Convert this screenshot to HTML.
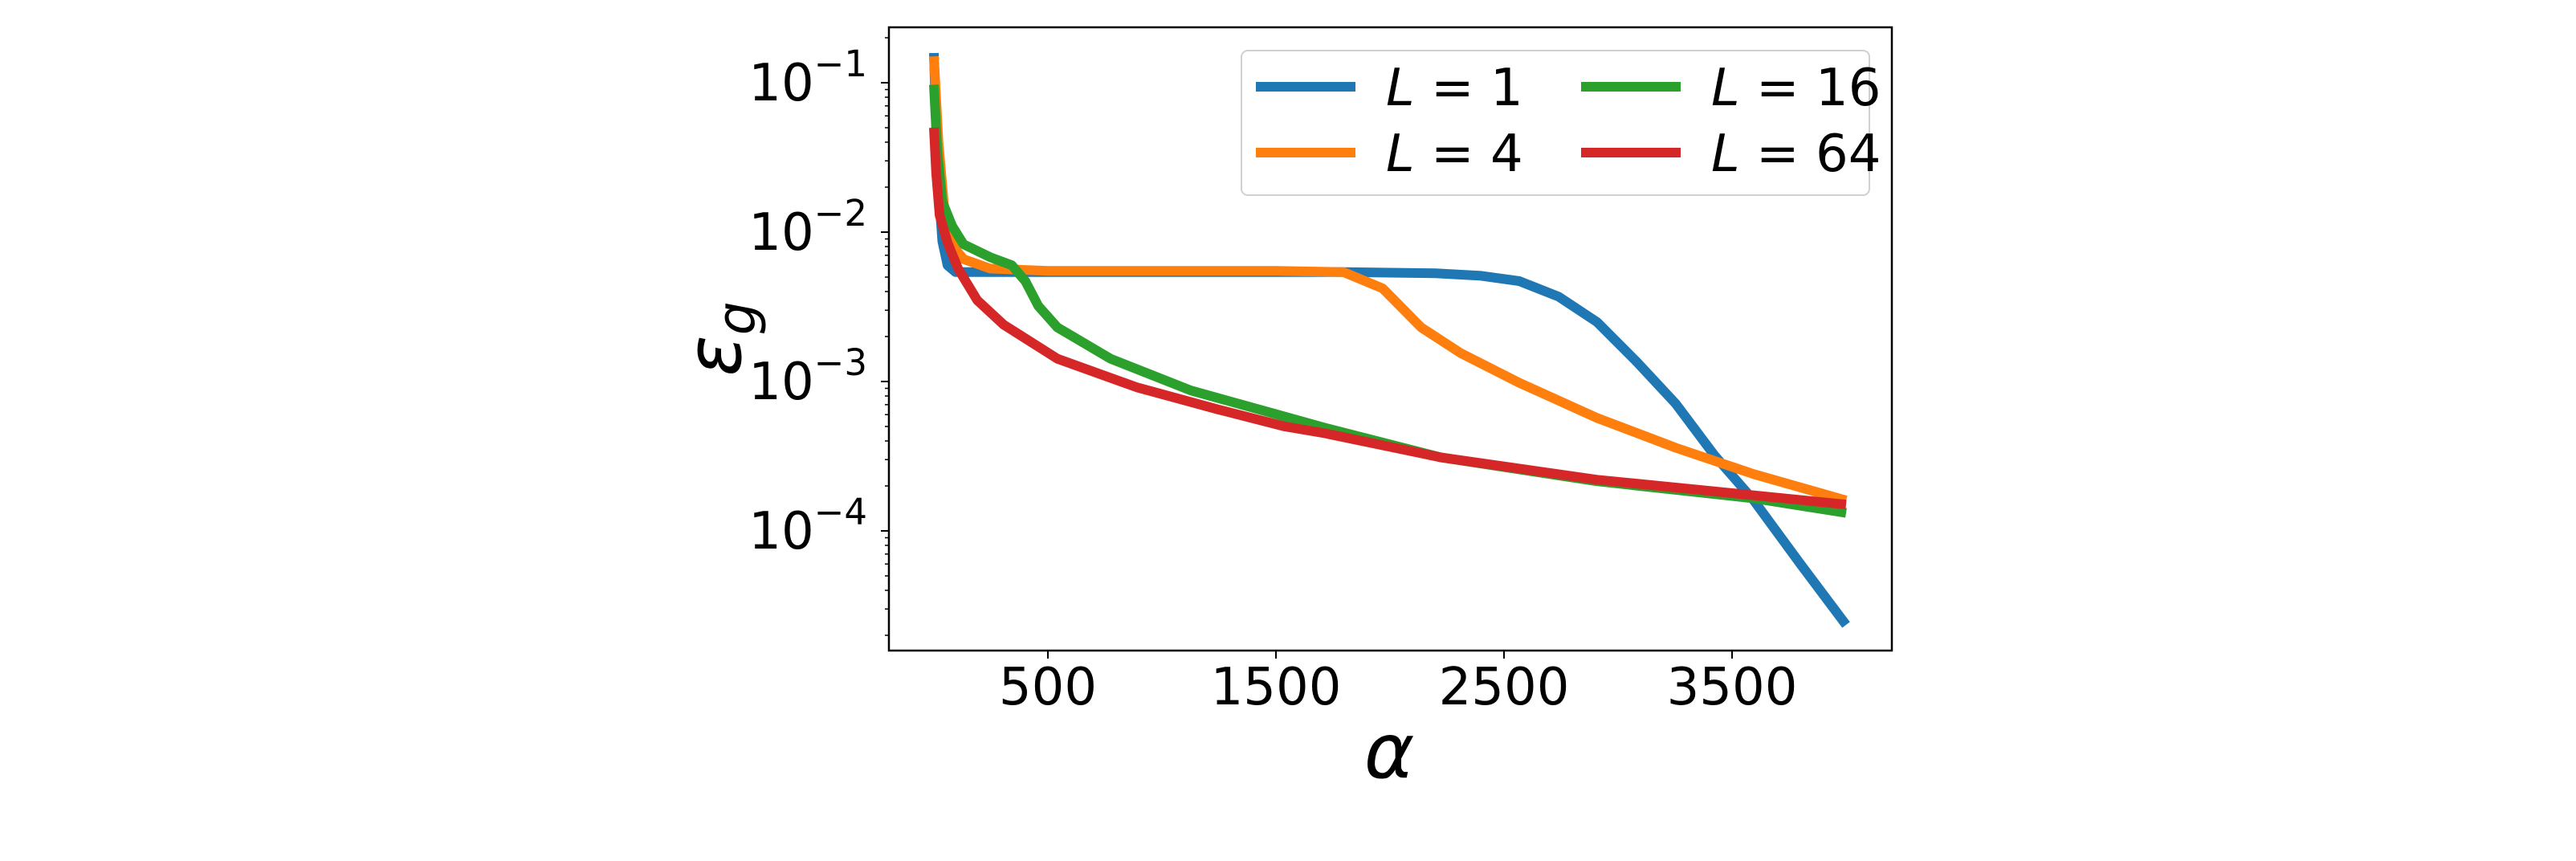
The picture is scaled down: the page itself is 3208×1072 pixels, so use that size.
<!DOCTYPE html>
<html><head><meta charset="utf-8"><style>
html,body{margin:0;padding:0;background:#fff;}
svg{display:block;font-family:"DejaVu Sans","Liberation Sans",sans-serif;}
</style></head><body>
<svg id="chart" width="3208" height="1072" xmlns="http://www.w3.org/2000/svg">
<rect width="3208" height="1072" fill="#fff"/>
<g id="plot"></g>
<g id="axes"></g>
</svg>
<script>
const xTicks = [500, 1500, 2500, 3500];
const xTickLabels = ["500", "1500", "2500", "3500"];
const yDecades = [-1, -2, -3, -4];
const seriesNames = ["L = 1", "L = 4", "L = 16", "L = 64"];
const seriesColors = ["#1f77b4", "#ff7f0e", "#2ca02c", "#d62728"];
const alphaL1 = [0, 10, 20, 37, 60, 95, 150, 300, 1000, 1800, 2200, 2400, 2567, 2739, 2908, 3081, 3253, 3423, 3595, 3800, 4000];
const valL1 = [0.158, 0.05, 0.02, 0.0087, 0.006, 0.0054, 0.0054, 0.0054, 0.0054, 0.0054, 0.0053, 0.0051, 0.0047, 0.0037, 0.0025, 0.00136, 0.00071, 0.00032, 0.00016, 0.00006, 0.0000235];
const alphaL4 = [0, 20, 50, 100, 130, 247, 500, 1000, 1500, 1796, 1968, 2137, 2310, 2567, 2908, 3253, 3595, 4000];
const valL4 = [0.15, 0.04, 0.012, 0.0075, 0.0066, 0.0057, 0.0055, 0.0055, 0.0055, 0.0054, 0.0042, 0.0023, 0.00155, 0.00098, 0.00057, 0.00036, 0.00024, 0.00016];
const alphaL16 = [0, 15, 37, 80, 130, 247, 342, 401, 458, 542, 775, 1127, 1715, 2225, 2908, 3595, 4000];
const valL16 = [0.097, 0.035, 0.016, 0.011, 0.0083, 0.0068, 0.006, 0.0047, 0.0032, 0.0023, 0.00142, 0.00087, 0.00049, 0.00031, 0.000215, 0.000165, 0.000132];
const alphaL64 = [0, 10, 25, 60, 106, 190, 306, 542, 894, 1246, 1539, 1715, 2225, 2908, 3595, 4000];
const valL64 = [0.05, 0.025, 0.013, 0.0085, 0.0057, 0.0035, 0.0024, 0.00142, 0.00091, 0.00065, 0.0005, 0.00045, 0.00031, 0.00022, 0.000173, 0.00015];

const AX = {left:1107, right:2356, top:34, bottom:810};
function xScale(a){ return 1163 + a*0.284; }
function yScale(v){ return 103 + (-1 - Math.log10(v))*186; }
const NS = "http://www.w3.org/2000/svg";
function mk(tag, attrs, parent){ const e=document.createElementNS(NS,tag); for(const k in attrs) e.setAttribute(k,attrs[k]); parent.appendChild(e); return e; }
const plot=document.getElementById('plot'), axes=document.getElementById('axes');

const clip = mk('clipPath',{id:'clip'},plot);
mk('rect',{x:AX.left,y:AX.top,width:AX.right-AX.left,height:AX.bottom-AX.top},clip);

const allA=[alphaL1,alphaL4,alphaL16,alphaL64], allV=[valL1,valL4,valL16,valL64];
const lineNames=['line-l1','line-l4','line-l16','line-l64'];
for(let s=0;s<4;s++){
  let d='';
  for(let i=0;i<allA[s].length;i++){ d+=(i?'L':'M')+xScale(allA[s][i]).toFixed(1)+','+yScale(allV[s][i]).toFixed(1); }
  const p=mk('path',{d:d,fill:'none',stroke:seriesColors[s],'stroke-width':12,'stroke-linejoin':'round','clip-path':'url(#clip)'},plot);
  
  
}

// frame
const fr=mk('rect',{x:AX.left,y:AX.top,width:AX.right-AX.left,height:AX.bottom-AX.top,fill:'none',stroke:'#000','stroke-width':2.5},axes);



// x ticks
for(let i=0;i<xTicks.length;i++){
  const x=xScale(xTicks[i]);
  const t=mk('line',{x1:x,x2:x,y1:AX.bottom,y2:AX.bottom+10,stroke:'#000','stroke-width':2},axes);
  
  
  const tx=mk('text',{x:x,y:877,'font-size':64,'text-anchor':'middle',fill:'#000'},axes);
  tx.textContent=xTickLabels[i];
  
  
}
// y ticks
for(let i=0;i<yDecades.length;i++){
  const y=yScale(Math.pow(10,yDecades[i]));
  const t=mk('line',{x1:AX.left-10,x2:AX.left,y1:y,y2:y,stroke:'#000','stroke-width':2},axes);
  
  
  const tx=mk('text',{x:1080,y:y+22,'font-size':64,'text-anchor':'end',fill:'#000'},axes);
  
  
  const a=mk('tspan',{},tx); a.textContent='10';
  const b=mk('tspan',{dy:-30,'font-size':45},tx); b.textContent='\u2212'+(-yDecades[i]);
}
for(let dec=-5; dec<=-1; dec++){
  for(let m=2;m<=9;m++){
    const v=m*Math.pow(10,dec), y=yScale(v);
    if(y<AX.top||y>AX.bottom) continue;
    const t=mk('line',{x1:AX.left-5,x2:AX.left,y1:y,y2:y,stroke:'#000','stroke-width':1.5},axes);
    
    
  }
}
// axis labels
const xl=mk('text',{x:1730,y:968,'font-size':95,'font-style':'italic','text-anchor':'middle',fill:'#000'},axes);
xl.textContent='α';


const yl=mk('text',{x:0,y:0,'font-size':95,'font-style':'italic','text-anchor':'middle',fill:'#000',transform:'translate(922,422) rotate(-90)'},axes);


const e1=mk('tspan',{},yl); e1.textContent='ε';
const e2=mk('tspan',{dy:18,'font-size':66},yl); e2.textContent='g';

// legend
const lg=mk('g',{},axes);


mk('rect',{x:1546,y:63,width:782,height:180,rx:8,fill:'#fff','fill-opacity':0.85,stroke:'#d0d0d0','stroke-width':2},lg);
const pos=[[1564,108],[1564,190],[1969,108],[1969,190]];
for(let s=0;s<4;s++){
  const g=mk('g',{},lg);
  
  
  mk('line',{x1:pos[s][0],x2:pos[s][0]+124,y1:pos[s][1],y2:pos[s][1],stroke:seriesColors[s],'stroke-width':12},g);
  const t=mk('text',{x:pos[s][0]+162,y:pos[s][1]+23,'font-size':64,fill:'#000'},g);
  const a=mk('tspan',{'font-style':'italic'},t); a.textContent='L';
  const b=mk('tspan',{},t); b.textContent=seriesNames[s].slice(1);
}
</script>
</body></html>
